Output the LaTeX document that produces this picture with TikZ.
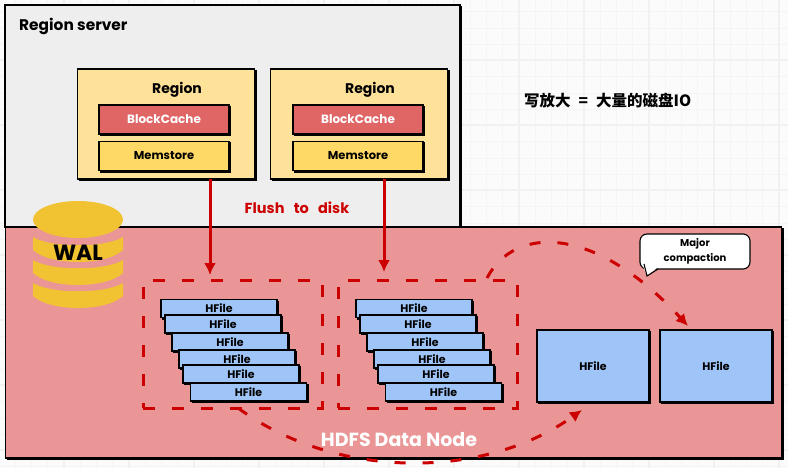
\documentclass[tikz,border=0pt]{standalone}
\usepackage{fontspec}
\setmainfont{Poppins}
\newfontfamily\cjk{Noto Sans CJK SC}
\usetikzlibrary{arrows.meta,shadows}

\definecolor{paper}{HTML}{FBFBFB}
\definecolor{gridminor}{HTML}{F5F5F5}
\definecolor{gridmajor}{HTML}{F1F1F1}
\definecolor{servergray}{HTML}{EEEEEE}
\definecolor{datapink}{HTML}{EA9696}
\definecolor{regionyellow}{HTML}{FFE299}
\definecolor{cachered}{HTML}{E06666}
\definecolor{memyellow}{HTML}{FFD966}
\definecolor{hfileblue}{HTML}{9FC5F8}
\definecolor{walgold}{HTML}{F1C232}
\definecolor{flushred}{HTML}{CC0000}

\begin{document}
\begin{tikzpicture}[x=1pt,y=-1pt]
\tikzset{box/.style = {shape=rectangle,draw=black,line width=1.2pt,inner sep=0pt,outer sep=0pt}}
\tikzset{shadowbox/.style = {box,copy shadow={draw=black,fill=black,shadow xshift=1.6pt,shadow yshift=-1.6pt}}}
\tikzset{server/.style = {shadowbox,fill=servergray,minimum width=455pt,minimum height=222pt}}
\tikzset{datanode/.style = {shadowbox,fill=datapink,minimum width=776pt,minimum height=231pt}}
\tikzset{region/.style = {shadowbox,fill=regionyellow,minimum width=177pt,minimum height=110pt}}
\tikzset{cache/.style = {shadowbox,fill=cachered,text=white,font=\bfseries\fontsize{12}{14}\selectfont,minimum width=130pt,minimum height=29pt}}
\tikzset{memstore/.style = {shadowbox,fill=memyellow,font=\bfseries\fontsize{11.5}{13}\selectfont,minimum width=130pt,minimum height=29pt}}
\tikzset{hfile/.style = {shadowbox,fill=hfileblue,font=\bfseries\fontsize{11}{13}\selectfont,minimum width=116pt,minimum height=18pt}}
\tikzset{bigfile/.style = {shadowbox,fill=hfileblue,font=\bfseries\fontsize{11}{13}\selectfont,minimum width=112pt,minimum height=72pt}}
\tikzset{filegroup/.style = {shape=rectangle,draw=flushred,line width=3pt,dash pattern=on 12pt off 17pt,inner sep=0pt,minimum width=179pt,minimum height=128pt}}
\tikzset{label/.style = {inner sep=0pt,font=\bfseries\fontsize{14}{16}\selectfont}}
\tikzset{flush/.style = {-{Latex[length=12pt,width=12pt]},draw=flushred,line width=3pt}}
\tikzset{compact/.style = {flush,dash pattern=on 11pt off 17pt}}
\tikzset{bubblebox/.style = {box,fill=white,line width=1.1pt,rounded corners=7pt,minimum width=110pt,minimum height=35pt,align=center,font=\bfseries\fontsize{10}{15}\selectfont}}

% paper

\fill[paper] (0,0) rectangle (788,468);
\useasboundingbox (0,0) rectangle (788,468);
\draw[gridminor,line width=0.8pt,step=16.25pt,shift={(15,11.7)}] (-16,-12) grid (780,456);
\draw[gridmajor,line width=1.2pt,step=65pt,shift={(64,60)}] (-64,-60) grid (724,408);

% containers

\node[server] (server) at (232.5,116) {};
\node[datanode] (data) at (393.5,342.5) {};
\node[label,anchor=west,font=\bfseries\fontsize{15.4}{17}\selectfont] (serverlabel) at (19,26) {Region server};
\node[label,font=\bfseries\fontsize{19}{21}\selectfont,text=white] (datalabel) at (399,440) {HDFS Data Node};

% regions

\node[region] (region1) at (166,124) {};
\node[region] (region2) at (359,124) {};
\node[label] (title1) at (177,90) {Region};
\node[label] (title2) at (370,90) {Region};
\node[cache] (cache1) at (164,119.5) {BlockCache};
\node[cache] (cache2) at (358,119.5) {BlockCache};
\node[memstore] (mem1) at (164,156) {Memstore};
\node[memstore] (mem2) at (358,156) {Memstore};

% wal

\fill[walgold] (33,237) .. controls (50,248) and (106,248) .. (123,237) -- (123,250) .. controls (106,266) and (50,266) .. (33,250) -- cycle;
\fill[walgold] (33,260) .. controls (50,271) and (106,271) .. (123,260) -- (123,273) .. controls (106,289) and (50,289) .. (33,273) -- cycle;
\fill[walgold] (33,283) .. controls (50,294) and (106,294) .. (123,283) -- (123,296) .. controls (106,312) and (50,312) .. (33,296) -- cycle;
\fill[walgold] (78,219.5) ellipse [x radius=45,y radius=18.5];
\node[label,font=\bfseries\fontsize{22}{24}\selectfont] (wal) at (78,253) {WAL};

% hfiles

\node[filegroup] (group1) at (232.5,344) {};
\node[filegroup] (group2) at (427.5,344) {};

\node[hfile] (f11) at (219,308.5) {HFile};
\node[hfile] (f12) at (223,324) {HFile};
\node[hfile] (f13) at (230,342) {HFile};
\node[hfile] (f14) at (237,359) {HFile};
\node[hfile] (f15) at (241,374) {HFile};
\node[hfile] (f16) at (248.5,392) {HFile};

\node[hfile] (f21) at (414,308.5) {HFile};
\node[hfile] (f22) at (418,324) {HFile};
\node[hfile] (f23) at (425,342) {HFile};
\node[hfile] (f24) at (432,359) {HFile};
\node[hfile] (f25) at (436,374) {HFile};
\node[hfile] (f26) at (443.5,392) {HFile};

\node[bigfile] (big1) at (593,366) {HFile};
\node[bigfile] (big2) at (716,366) {HFile};

% flush

\coordinate (flushend1) at (210,275);
\coordinate (flushend2) at (384,272);
\draw[flush] (region1.south -| flushend1) to (flushend1);
\draw[flush] (region2.south -| flushend2) to (flushend2);
\node[label,text=flushred,font=\bfseries\fontsize{14.5}{16}\selectfont] (flushlabel) at (297,208) {Flush~~~to~~~disk};

% compaction

\coordinate (bottomstart) at (238,408);
\coordinate (bottomend) at (582,410);
\coordinate (topstart) at (487,278);
\coordinate (topend) at (688,326);
\draw[compact] (bottomstart) .. controls (336,480) and (484,480) .. (bottomend);
\draw[compact] (topstart) .. controls (515,225) and (595,225) .. (topend);

% bubble

\node[bubblebox] (bubble) at (695,251.5) {Major\\compaction};
\coordinate (bubbletip) at (647,276);
\fill[white] (643,266) -- (bubbletip) -- (658,267) -- cycle;
\draw[line width=1.1pt] (644,264) -- (bubbletip) -- (658,269);

% note

\node[anchor=west,inner sep=0pt,font=\bfseries\fontsize{15.5}{17}\selectfont] (note) at (524,101) {\cjk 写放大\hspace{8pt}=\hspace{8pt}大量的磁盘IO};
\end{tikzpicture}
\end{document}
